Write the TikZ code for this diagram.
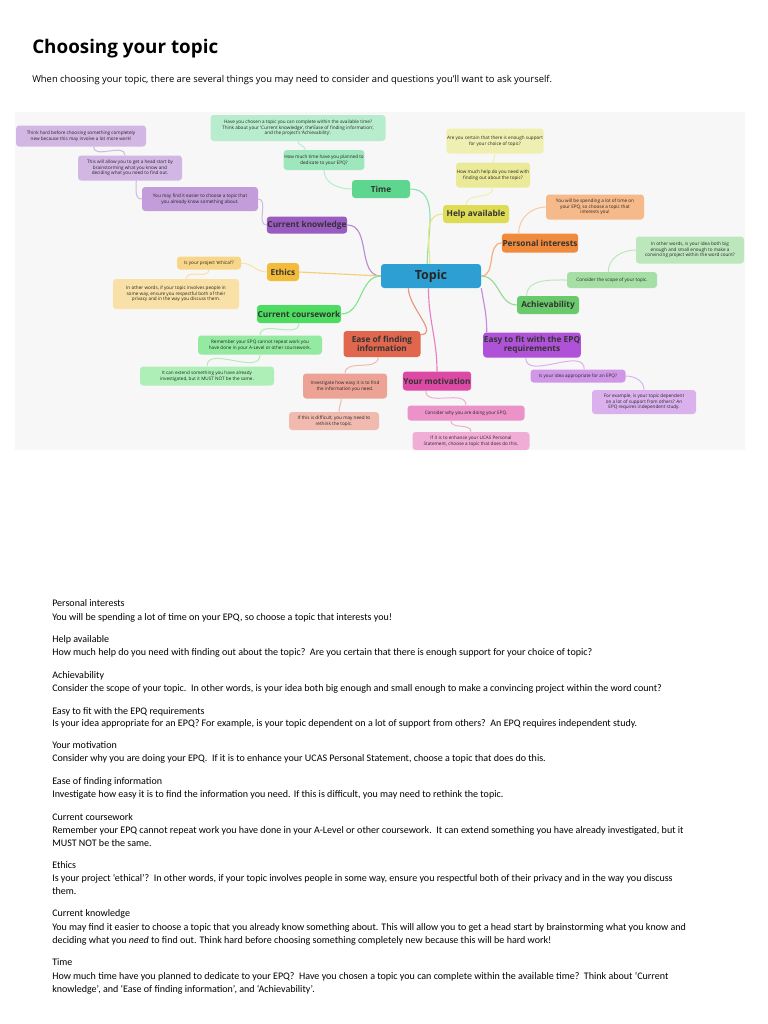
\documentclass[tikz,border=0pt]{standalone}
\usepackage{fontspec}
\setmainfont{Carlito}
\newfontfamily\osans{Open Sans}
\pgfdeclarelayer{bg}
\pgfsetlayers{bg,main}
\definecolor{cTopic}{HTML}{2E9FD3}
\definecolor{cTime}{HTML}{5ED68F}
\definecolor{cHelp}{HTML}{DEDC55}
\definecolor{cPI}{HTML}{F08A3C}
\definecolor{cAch}{HTML}{6AC96A}
\definecolor{cFit}{HTML}{B052D8}
\definecolor{cMot}{HTML}{DD4AA5}
\definecolor{cEase}{HTML}{E0664E}
\definecolor{cCC}{HTML}{4CDC60}
\definecolor{cEth}{HTML}{F2BB3A}
\definecolor{cCK}{HTML}{9A5CC0}
\newcommand\mm[7]{\node[#6, minimum width=#4*0.797pt, minimum height=#5*0.797pt] (#1) at (#2,#3) {#7};}
\tikzset{
 box/.style={rounded corners=2.5pt, inner sep=0.5pt, align=center, font=\osans},
 mainb/.style={box, fill=#1, font=\osans\fontsize{6.6}{7.5}\selectfont\bfseries, text=black!80},
 kid/.style={box, fill=#1!60!white, font=\osans\fontsize{3.7}{4.6}\selectfont, text=black!85},
 gkid/.style={box, fill=#1!45!white, font=\osans\fontsize{3.7}{4.6}\selectfont, text=black!85},
 conn/.style={draw=#1!70!white, line width=0.9pt},
 kconn/.style={draw=#1!45!white, line width=0.8pt},
 body/.style={anchor=base west, inner sep=0, font=\fontsize{8}{9.5}\selectfont}
}
\begin{document}
\begin{tikzpicture}[x=0.797pt,y=-0.797pt]
\useasboundingbox (0,0) rectangle (768,1024);
\node[anchor=base west, inner sep=0, font=\osans\fontsize{15}{18}\selectfont\bfseries] (title) at (32,53) {Choosing your topic};
\node[anchor=base west, inner sep=0, font=\osans\fontsize{7.5}{9}\selectfont] (intro) at (32,82) {When choosing your topic, there are several things you may need to consider and questions you’ll want to ask yourself.};
% main nodes
\mm{topic}{431}{276}{100}{24}{box, fill=cTopic, font=\osans\fontsize{10}{12}\selectfont\bfseries, text=black!85}{Topic}
\mm{time}{381}{189}{58}{18}{mainb=cTime}{Time}
\mm{help}{476}{214}{66}{18}{mainb=cHelp}{Help available}
\mm{pi}{540}{243}{72}{19}{mainb=cPI}{Personal interests}
\mm{ach}{548}{305}{62}{18}{mainb=cAch}{Achievability}
\mm{fit}{532}{345}{90}{25}{mainb=cFit}{Easy to fit with the EPQ\\requirements}
\mm{mot}{437}{381}{68}{19}{mainb=cMot}{Your motivation}
\mm{ease}{382}{344}{77}{26}{mainb=cEase}{Ease of finding\\information}
\mm{cc}{299}{314}{78}{18}{mainb=cCC}{Current coursework}
\mm{eth}{283}{272}{32}{18}{mainb=cEth}{Ethics}
\mm{ck}{307}{225}{76}{17}{mainb=cCK}{Current knowledge}
% children
\mm{hmt}{324}{160}{80}{20}{kid=cTime}{How much time have you planned to\\dedicate to your EPQ?}
\mm{hay}{298}{128}{175}{26}{gkid=cTime}{Have you chosen a topic you can complete within the available time?\\Think about your ‘Current knowledge’, the‘Ease of finding information’,\\and the project’s ‘Achievability’.}
\mm{hmh}{493}{175}{74}{25}{kid=cHelp}{How much help do you need with\\finding out about the topic?}
\mm{ayc}{495}{141}{95}{25}{gkid=cHelp}{Are you certain that there is enough support\\for your choice of topic?}
\mm{pik}{595}{207}{98}{25}{kid=cPI}{You will be spending a lot of time on\\your EPQ, so choose a topic that\\interests you!}
\mm{cst}{612}{280}{90}{16}{kid=cAch}{Consider the scope of your topic.}
\mm{iow}{690}{250}{108}{27}{gkid=cAch}{In other words, is your idea both big\\enough and small enough to make a\\convincing project within the word count?}
\mm{iyi}{578}{376}{95}{13}{kid=cFit}{Is your idea appropriate for an EPQ?}
\mm{fex}{644}{402}{104}{24}{gkid=cFit}{For example, is your topic dependent\\on a lot of support from others? An\\EPQ requires independent study.}
\mm{cwy}{466}{413}{117}{15}{kid=cMot}{Consider why you are doing your EPQ.}
\mm{iit}{471}{441}{117}{18}{gkid=cMot}{If it is to enhance your UCAS Personal\\Statement, choose a topic that does do this.}
\mm{inv}{345}{386}{84}{25}{kid=cEase}{Investigate how easy it is to find\\the information you need.}
\mm{idf}{334}{421}{90}{18}{gkid=cEase}{If this is difficult, you may need to\\rethink the topic.}
\mm{rem}{260}{345}{124}{19}{kid=cCC}{Remember your EPQ cannot repeat work you\\have done in your A-Level or other coursework.}
\mm{ice}{207}{376}{134}{19}{gkid=cCC}{It can extend something you have already\\investigated, but it MUST NOT be the same.}
\mm{iyp}{209}{263}{64}{13}{kid=cEth}{Is your project ‘ethical’?}
\mm{iwe}{176}{294}{126}{30}{gkid=cEth}{In other words, if your topic involves people in\\some way, ensure you respectful both of their\\privacy and in the way you discuss them.}
\mm{ymf}{200}{199}{116}{24}{kid=cCK}{You may find it easier to choose a topic that\\you already know something about.}
\mm{twa}{130}{168}{104}{25}{gkid=cCK}{This will allow you to get a head start by\\brainstorming what you know and\\deciding what you need to find out.}
\mm{thb}{81}{136}{130}{21}{gkid=cCK}{Think hard before choosing something completely\\new because this may involve a lot more work!}
% connectors
\begin{pgfonlayer}{bg}
\fill[black!3] (15,112) rectangle (745,450);
\draw[conn=cTime] ([xshift=-3pt]topic.north) to[out=90,in=0] (time.east);
\draw[conn=cHelp] ([xshift=-1pt]topic.north) to[out=90,in=180] (help.west);
\draw[conn=cCK] (topic.west) to[out=180,in=0] (ck.east);
\draw[conn=cEth] (topic.west) -- (eth.east);
\draw[conn=cCC] (topic.west) to[out=180,in=0] (cc.east);
\draw[conn=cEase] ([xshift=-18pt]topic.south) to[out=-90,in=0] ([yshift=-3pt]ease.north east);
\draw[conn=cMot] ([xshift=-2pt]topic.south) to[out=-90,in=90] (mot.north);
\draw[conn=cFit] (topic.south east) to[out=-80,in=90] ([xshift=3pt]fit.north west);
\draw[conn=cPI] (topic.east) to[out=0,in=180] (pi.west);
\draw[conn=cAch] (topic.east) to[out=0,in=180] (ach.west);
\draw[kconn=cTime] (time.west) to[out=180,in=-90] (hmt.south);
\draw[kconn=cTime] ([xshift=-15pt]hmt.north) to[out=90,in=-90] (hay.south);
\draw[kconn=cHelp] ([xshift=-8pt]help.north) to[out=90,in=-90] (hmh.south);
\draw[kconn=cHelp] (hmh.north) to[out=90,in=-90] (ayc.south);
\draw[kconn=cPI] ([xshift=-17pt]pi.north) to[out=90,in=180] (pik.west);
\draw[kconn=cAch] ([xshift=-17pt]ach.north) to[out=90,in=180] (cst.west);
\draw[kconn=cAch] ([xshift=-3pt]cst.north) to[out=90,in=180] (iow.west);
\draw[kconn=cFit] ([xshift=-5pt]fit.south) to[out=-90,in=90] ([xshift=5pt]iyi.north);
\draw[kconn=cFit] (iyi.east) to[out=0,in=90] (fex.north);
\draw[kconn=cMot] ([xshift=-9pt]mot.south) to[out=-90,in=90] (cwy.north);
\draw[kconn=cMot] ([xshift=-12pt]cwy.south) to[out=-90,in=90] (iit.north);
\draw[kconn=cEase] ([xshift=-3pt]ease.south) to[out=-90,in=90] (inv.north);
\draw[kconn=cEase] ([xshift=-3pt]inv.south) to[out=-90,in=90] ([xshift=4pt]idf.north);
\draw[kconn=cCC] (cc.south) to[out=-90,in=90] (rem.north);
\draw[kconn=cCC] (rem.south) to[out=-90,in=90] (ice.north);
\draw[kconn=cEth] (eth.west) to[out=180,in=0] (iyp.east);
\draw[kconn=cEth] (iyp.south) to[out=-90,in=90] ([xshift=8pt]iwe.north);
\draw[kconn=cCK] (ck.west) to[out=180,in=0] (ymf.east);
\draw[kconn=cCK] (ymf.west) to[out=180,in=-90] ([xshift=5pt]twa.south);
\draw[kconn=cCK] ([xshift=-4pt]twa.north) to[out=90,in=-90] ([xshift=10pt]thb.south);
\end{pgfonlayer}
% body text
\node[body] (b1) at (52,606) {Personal interests};
\node[body] (b2) at (52,620) {You will be spending a lot of time on your EPQ, so choose a topic that interests you!};
\node[body] (b3) at (52,642) {Help available};
\node[body] (b4) at (52,655) {How much help do you need with finding out about the topic?\ \ Are you certain that there is enough support for your choice of topic?};
\node[body] (b5) at (52,678) {Achievability};
\node[body] (b6) at (52,691) {Consider the scope of your topic.\ \ In other words, is your idea both big enough and small enough to make a convincing project within the word count?};
\node[body] (b7) at (52,714) {Easy to fit with the EPQ requirements};
\node[body] (b8) at (52,726) {Is your idea appropriate for an EPQ? For example, is your topic dependent on a lot of support from others?\ \ An EPQ requires independent study.};
\node[body] (b9) at (52,748) {Your motivation};
\node[body] (b10) at (52,761) {Consider why you are doing your EPQ.\ \ If it is to enhance your UCAS Personal Statement, choose a topic that does do this.};
\node[body] (b11) at (52,784) {Ease of finding information};
\node[body] (b12) at (52,797) {Investigate how easy it is to find the information you need. If this is difficult, you may need to rethink the topic.};
\node[body] (b13) at (52,820) {Current coursework};
\node[body] (b14) at (52,833) {Remember your EPQ cannot repeat work you have done in your A-Level or other coursework.\ \ It can extend something you have already investigated, but it};
\node[body] (b15) at (52,846) {MUST NOT be the same.};
\node[body] (b16) at (52,868) {Ethics};
\node[body] (b17) at (52,881) {Is your project ‘ethical’?\ \ In other words, if your topic involves people in some way, ensure you respectful both of their privacy and in the way you discuss};
\node[body] (b18) at (52,894) {them.};
\node[body] (b19) at (52,916) {Current knowledge};
\node[body] (b20) at (52,930) {You may find it easier to choose a topic that you already know something about. This will allow you to get a head start by brainstorming what you know and};
\node[body] (b21) at (52,943) {deciding what you \emph{need} to find out. Think hard before choosing something completely new because this will be hard work!};
\node[body] (b22) at (52,965) {Time};
\node[body] (b23) at (52,979) {How much time have you planned to dedicate to your EPQ?\ \ Have you chosen a topic you can complete within the available time?\ \ Think about ‘Current};
\node[body] (b24) at (52,992) {knowledge’, and ‘Ease of finding information’, and ‘Achievability’.};
\end{tikzpicture}
\end{document}
